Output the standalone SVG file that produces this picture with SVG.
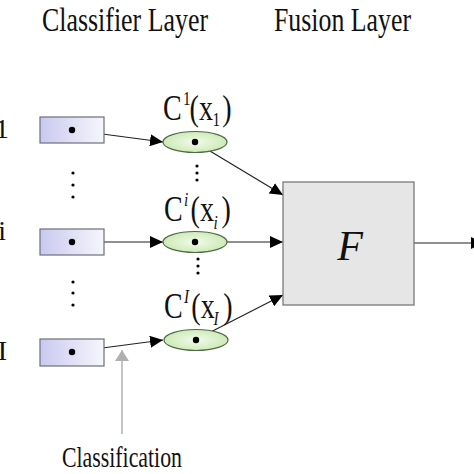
<svg xmlns="http://www.w3.org/2000/svg" width="474" height="474" viewBox="0 0 474 474">
<defs>
<linearGradient id="rg" x1="0" y1="0" x2="1" y2="0">
<stop offset="0" stop-color="#c9c9f0"/>
<stop offset="1" stop-color="#f6f6fc"/>
</linearGradient>
<radialGradient id="eg" cx="0.5" cy="0.5" r="0.5">
<stop offset="0" stop-color="#f2fbe9"/>
<stop offset="1" stop-color="#cdeab8"/>
</radialGradient>
<marker id="ah" markerUnits="userSpaceOnUse" markerWidth="14" markerHeight="12" refX="13" refY="6" orient="auto">
<path d="M0,0 L13,6 L0,12 Z" fill="#000"/>
</marker>
<marker id="ahg" markerUnits="userSpaceOnUse" markerWidth="12" markerHeight="14" refX="11" refY="7" orient="auto">
<path d="M0,0 L11,7 L0,14 Z" fill="#b0b0b0"/>
</marker>
</defs>
<style>
.t{font-family:"Liberation Serif","Times New Roman",serif;fill:#111}
.rect{fill:url(#rg);stroke:#6e6e7a;stroke-width:1.2}
.ell{fill:url(#eg);stroke:#4f6a45;stroke-width:1.2}
.dot{fill:#000}
.con{stroke:#222;stroke-width:1.2;fill:none}
</style>

<text class="t" x="42" y="31" font-size="33" textLength="166" lengthAdjust="spacingAndGlyphs">Classifier Layer</text>
<text class="t" x="274" y="31" font-size="33" textLength="137" lengthAdjust="spacingAndGlyphs">Fusion Layer</text>

<text class="t" x="9" y="138" font-size="28" text-anchor="end">1</text>
<text class="t" x="6" y="240" font-size="28" text-anchor="end">i</text>
<text class="t" x="7" y="360" font-size="28" text-anchor="end">I</text>

<g id="vdots">
<circle class="dot" cx="73" cy="173" r="1.6"/>
<circle class="dot" cx="73" cy="185" r="1.6"/>
<circle class="dot" cx="73" cy="197" r="1.6"/>
<circle class="dot" cx="73" cy="282" r="1.6"/>
<circle class="dot" cx="73" cy="293" r="1.6"/>
<circle class="dot" cx="73" cy="305" r="1.6"/>
<circle class="dot" cx="197" cy="166" r="1.6"/>
<circle class="dot" cx="197" cy="173" r="1.6"/>
<circle class="dot" cx="197" cy="180" r="1.6"/>
<circle class="dot" cx="198" cy="259" r="1.6"/>
<circle class="dot" cx="198" cy="266" r="1.6"/>
<circle class="dot" cx="198" cy="273" r="1.6"/>
</g>

<g id="connectors">
<line class="con" x1="72" y1="130" x2="163" y2="142" marker-end="url(#ah)"/>
<line class="con" x1="72" y1="242" x2="163" y2="242" marker-end="url(#ah)"/>
<line class="con" x1="72" y1="352" x2="163" y2="340" marker-end="url(#ah)"/>
<line class="con" x1="195" y1="142" x2="283" y2="195" marker-end="url(#ah)"/>
<line class="con" x1="195" y1="242" x2="283" y2="242" marker-end="url(#ah)"/>
<line class="con" x1="195" y1="340" x2="283" y2="295" marker-end="url(#ah)"/>
<line class="con" x1="414" y1="243" x2="484" y2="243" marker-end="url(#ah)"/>
<line x1="122" y1="434" x2="122" y2="350" stroke="#b0b0b0" stroke-width="1.5" marker-end="url(#ahg)"/>
</g>

<g id="in1"><rect class="rect" x="40" y="117" width="64" height="26"/><circle class="dot" cx="72" cy="130" r="3.2"/></g>
<g id="in2"><rect class="rect" x="40" y="229" width="64" height="26"/><circle class="dot" cx="72" cy="242" r="3.2"/></g>
<g id="in3"><rect class="rect" x="40" y="339" width="64" height="27"/><circle class="dot" cx="72" cy="352" r="3.2"/></g>

<g id="c1">
<ellipse class="ell" cx="195" cy="142" rx="32" ry="10.5"/><circle class="dot" cx="195" cy="142" r="3.2"/>
<text class="t" font-size="35" transform="translate(163,120) scale(0.8,1)"><tspan x="0" y="0">C</tspan><tspan x="25" y="-15" font-size="19">1</tspan><tspan x="33" y="0">(</tspan><tspan x="45" y="0">x</tspan><tspan x="62" y="6" font-size="19">1</tspan><tspan x="74" y="0">)</tspan></text>
</g>
<g id="c2">
<ellipse class="ell" cx="195" cy="242" rx="32" ry="10.5"/><circle class="dot" cx="195" cy="242" r="3.2"/>
<text class="t" font-size="35" transform="translate(164,221) scale(0.8,1)"><tspan x="0" y="0">C</tspan><tspan x="25" y="-15" font-size="19" font-style="italic">i</tspan><tspan x="33" y="0">(</tspan><tspan x="45" y="0">x</tspan><tspan x="62" y="8" font-size="19" font-style="italic">i</tspan><tspan x="72" y="0">)</tspan></text>
</g>
<g id="c3">
<ellipse class="ell" cx="196" cy="340" rx="32" ry="10.5"/><circle class="dot" cx="196" cy="340" r="3.2"/>
<text class="t" font-size="35" transform="translate(164,318) scale(0.8,1)"><tspan x="0" y="0">C</tspan><tspan x="25" y="-15" font-size="19" font-style="italic">I</tspan><tspan x="34" y="0">(</tspan><tspan x="46" y="0">x</tspan><tspan x="62" y="7" font-size="19" font-style="italic">I</tspan><tspan x="74" y="0">)</tspan></text>
</g>

<g id="fusion">
<rect x="283" y="182" width="131" height="123" fill="#e6e6e6" stroke="#7a7a7a" stroke-width="1.3"/>
<text class="t" x="350" y="260" font-size="42" font-style="italic" text-anchor="middle">F</text>
</g>

<text class="t" x="62" y="467" font-size="30" textLength="120" lengthAdjust="spacingAndGlyphs">Classification</text>
</svg>
